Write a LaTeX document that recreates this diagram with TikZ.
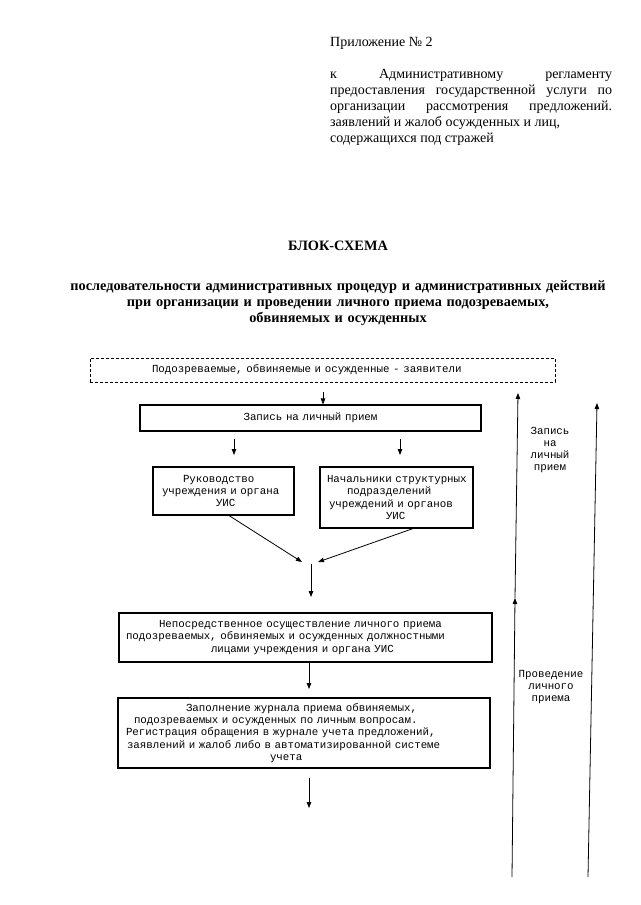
\documentclass[tikz,border=0pt]{standalone}
\usepackage{fontspec}
\setmainfont{Liberation Serif}
\newfontfamily\monofont{Liberation Mono}
\usetikzlibrary{arrows.meta}
\newcommand\mytt{\monofont\fontsize{10.8}{12.3}\selectfont}
\newcommand\myrm{\fontsize{14}{16}\selectfont}
\newcommand\mybf{\bfseries\fontsize{14.3}{16}\selectfont}
\begin{document}
\begin{tikzpicture}[x=1pt,y=-1pt,
  box/.style={draw, line width=1.1pt, inner xsep=0pt, inner ysep=0pt, align=left, font=\mytt},
  dbox/.style={box, line width=0.8pt, dash pattern=on 3pt off 2pt},
  arr/.style={line width=0.8pt, -{Triangle[length=6pt,width=4.5pt]}},
  lbl/.style={align=center, inner sep=0pt, font=\mytt}]
\useasboundingbox[fill=white] (0,0) rectangle (640,905);

% header
\node[anchor=base west, inner sep=0pt, font=\myrm] (h1) at (330,46) {Приложение № 2};
\node[anchor=base west, inner sep=0pt, text width=282pt, align=justify, font=\myrm] (h2) at (330,78.5)
 {к Административному регламенту\linebreak предоставления государственной услуги по\linebreak организации рассмотрения предложений.\linebreak заявлений и жалоб осужденных и лиц,\\ содержащихся под стражей};

% title
\node[anchor=base, inner sep=0pt, font=\mybf] (t1) at (338,250.5) {БЛОК-СХЕМА};
\node[anchor=base, inner sep=0pt, text width=600pt, align=center, font=\mybf] (t2) at (338,290.5)
 {последовательности административных процедур и административных действий\\ при организации и проведении личного приема подозреваемых,\\ обвиняемых и осужденных};

% boxes
\node[dbox, minimum width=465pt, minimum height=24pt, text width=465pt] (src) at (322.5,370)
 {\hspace*{62pt}Подозреваемые, обвиняемые и осужденные - заявители};
\node[box, minimum height=26pt, text width=341pt, align=center] (zap) at (310.5,418)
 {Запись на личный прием};
\node[box, minimum height=48pt, text width=141pt] (b1) at (223.5,491)
 {\hspace*{30pt}Руководство\\\hspace*{9pt}учреждения и органа\\\hspace*{63pt}УИС};
\node[box, minimum height=61pt, text width=153pt] (b2) at (396.5,497.5)
 {\hspace*{7pt}Начальники структурных\\\hspace*{27pt}подразделений\\\hspace*{9pt}учреждений и органов\\\hspace*{66pt}УИС};
\node[box, minimum height=49pt, text width=373pt] (b3) at (305.5,637.5)
 {\hspace*{40pt}Непосредственное осуществление личного приема\\\hspace*{7pt}подозреваемых, обвиняемых и осужденных должностными\\\hspace*{92pt}лицами учреждения и органа УИС};
\node[box, minimum height=70pt, text width=372pt] (b4) at (304,733)
 {\hspace*{68pt}Заполнение журнала приема обвиняемых,\\\hspace*{16pt}подозреваемых и осужденных по личным вопросам.\\\hspace*{8pt}Регистрация обращения в журнале учета предложений,\\\hspace*{9pt}заявлений и жалоб либо в автоматизированной системе\\\hspace*{152pt}учета};

% connectors
\coordinate (a1s) at (323,392);
\draw[arr] (a1s) -- (a1s |- zap.north);
\coordinate (a2s) at (234,439); \coordinate (a2e) at (234,455);
\draw[arr] (a2s) -- (a2e);
\coordinate (a3s) at (400,439); \coordinate (a3e) at (400,455);
\draw[arr] (a3s) -- (a3e);
\coordinate (d1x) at (229,0); \coordinate (d1e) at (302,562);
\draw[arr] (b1.south -| d1x) -- (d1e);
\coordinate (d2x) at (413,0); \coordinate (d2e) at (318,562);
\draw[arr] (b2.south -| d2x) -- (d2e);
\coordinate (a4s) at (311,564); \coordinate (a4e) at (311,597);
\draw[arr] (a4s) -- (a4e);
\coordinate (a5x) at (309,0); \coordinate (a5e) at (309,689);
\draw[arr] (b3.south -| a5x) -- (a5e);
\coordinate (a6s) at (309,778); \coordinate (a6e) at (309,808);
\draw[arr] (a6s) -- (a6e);

% right side
\coordinate (ra1) at (512,877); \coordinate (ra2) at (515,598); \coordinate (ra3) at (518,393);
\draw[arr] (ra1) -- (ra2);
\draw[arr] (ra2) -- (ra3);
\coordinate (rb1) at (588,877); \coordinate (rb2) at (597,403);
\draw[arr] (rb1) -- (rb2);
\node[lbl] (l1) at (550,450) {Запись\\на\\личный\\прием};
\node[lbl] (l2) at (551,687) {Проведение\\личного\\приема};
\end{tikzpicture}
\end{document}
